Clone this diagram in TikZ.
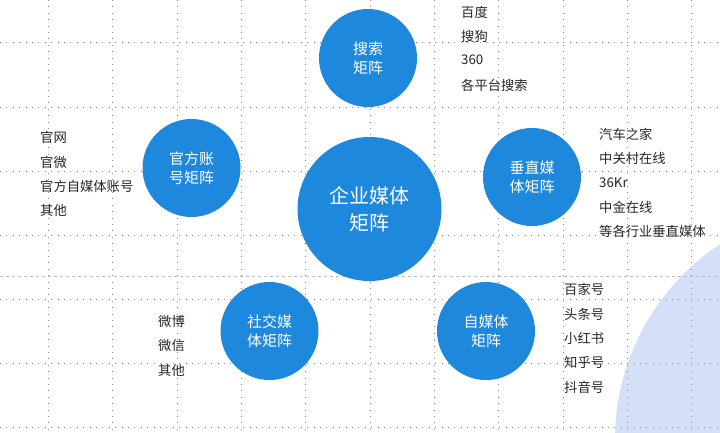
\documentclass[tikz,border=0pt]{standalone}
\usepackage{fontspec}
\setmainfont{Noto Sans CJK SC}
\usetikzlibrary{positioning}
\usepackage{xcolor}
\definecolor{Ink}{HTML}{262626}
\definecolor{Matrix}{HTML}{1E88DC}
\definecolor{Pale}{HTML}{D3E0F7}
\definecolor{GridGray}{HTML}{8C8C8C}
\tikzset{
  gridline/.style={GridGray,line width=0.9pt,dash pattern=on 0.9pt off 5.5pt},
  hub/.style={circle,inner sep=0pt,fill=Matrix,text=white,align=center},
  small/.style={hub,minimum size=98pt,font=\fontsize{15}{19}\selectfont},
  big/.style={hub,minimum size=144pt,font=\fontsize{20}{27}\selectfont},
  item/.style={anchor=west,inner sep=0pt,text=Ink,font=\fontsize{13.3}{15}\selectfont},
}
\begin{document}
\begin{tikzpicture}[x=1pt,y=-1pt]
\useasboundingbox (0,0) rectangle (720,432);
% pale backdrop
\begin{scope}
\clip (0,0) rectangle (720,432);
\fill[Pale] (850,440) circle (235);
\end{scope}
% dotted grid
\draw[gridline] (48,0) -- (48,432);
\draw[gridline] (112.5,0) -- (112.5,432);
\draw[gridline] (177,0) -- (177,432);
\draw[gridline] (241,0) -- (241,432);
\draw[gridline] (305.5,0) -- (305.5,432);
\draw[gridline] (370,0) -- (370,432);
\draw[gridline] (434,0) -- (434,432);
\draw[gridline] (498.5,0) -- (498.5,432);
\draw[gridline] (563,0) -- (563,432);
\draw[gridline] (627,0) -- (627,432);
\draw[gridline] (691.5,0) -- (691.5,432);
\draw[gridline] (0,42.5) -- (720,42.5);
\draw[gridline] (0,107) -- (720,107);
\draw[gridline] (0,171) -- (720,171);
\draw[gridline] (0,235) -- (720,235);
\draw[gridline] (0,299) -- (720,299);
\draw[gridline] (0,363) -- (720,363);
\draw[gridline] (0,427) -- (720,427);
\draw[GridGray!60,line width=0.8pt,dash pattern=on 3pt off 3pt] (0,276) -- (720,276);
% matrix circles
\node[big] (core) at (369.5,209) {企业媒体\\矩阵};
\node[small] (search) at (368,58) {搜索\\矩阵};
\node[small] (official) at (191.5,168) {官方账\\号矩阵};
\node[small] (vertical) at (532,177) {垂直媒\\体矩阵};
\node[small] (social) at (269.5,331) {社交媒\\体矩阵};
\node[small] (selfmedia) at (486,331) {自媒体\\矩阵};
% search list
\node[item] (baidu) at (461,12) {百度};
\node[item] (sogou) at (461,36) {搜狗};
\node[item] (s360) at (461,60) {360};
\node[item] (allsearch) at (461,85) {各平台搜索};
% official list
\node[item] (site) at (40,137) {官网};
\node[item] (weibo1) at (40,162) {官微};
\node[item] (ownmedia) at (40,186) {官方自媒体账号};
\node[item] (other1) at (40,210) {其他};
% vertical list
\node[item] (autohome) at (599,134) {汽车之家};
\node[item] (zol) at (599,158) {中关村在线};
\node[item] (kr36) at (599,183) {36Kr};
\node[item] (cnfol) at (599,207) {中金在线};
\node[item] (industry) at (599,231) {等各行业垂直媒体};
% social list
\node[item] (weibo) at (158,321) {微博};
\node[item] (wechat) at (158,345) {微信};
\node[item] (other2) at (158,370) {其他};
% self media list
\node[item] (baijia) at (564,289) {百家号};
\node[item] (toutiao) at (564,314) {头条号};
\node[item] (xhs) at (564,338) {小红书};
\node[item] (zhihu) at (564,362) {知乎号};
\node[item] (douyin) at (564,387) {抖音号};
\end{tikzpicture}
\end{document}
